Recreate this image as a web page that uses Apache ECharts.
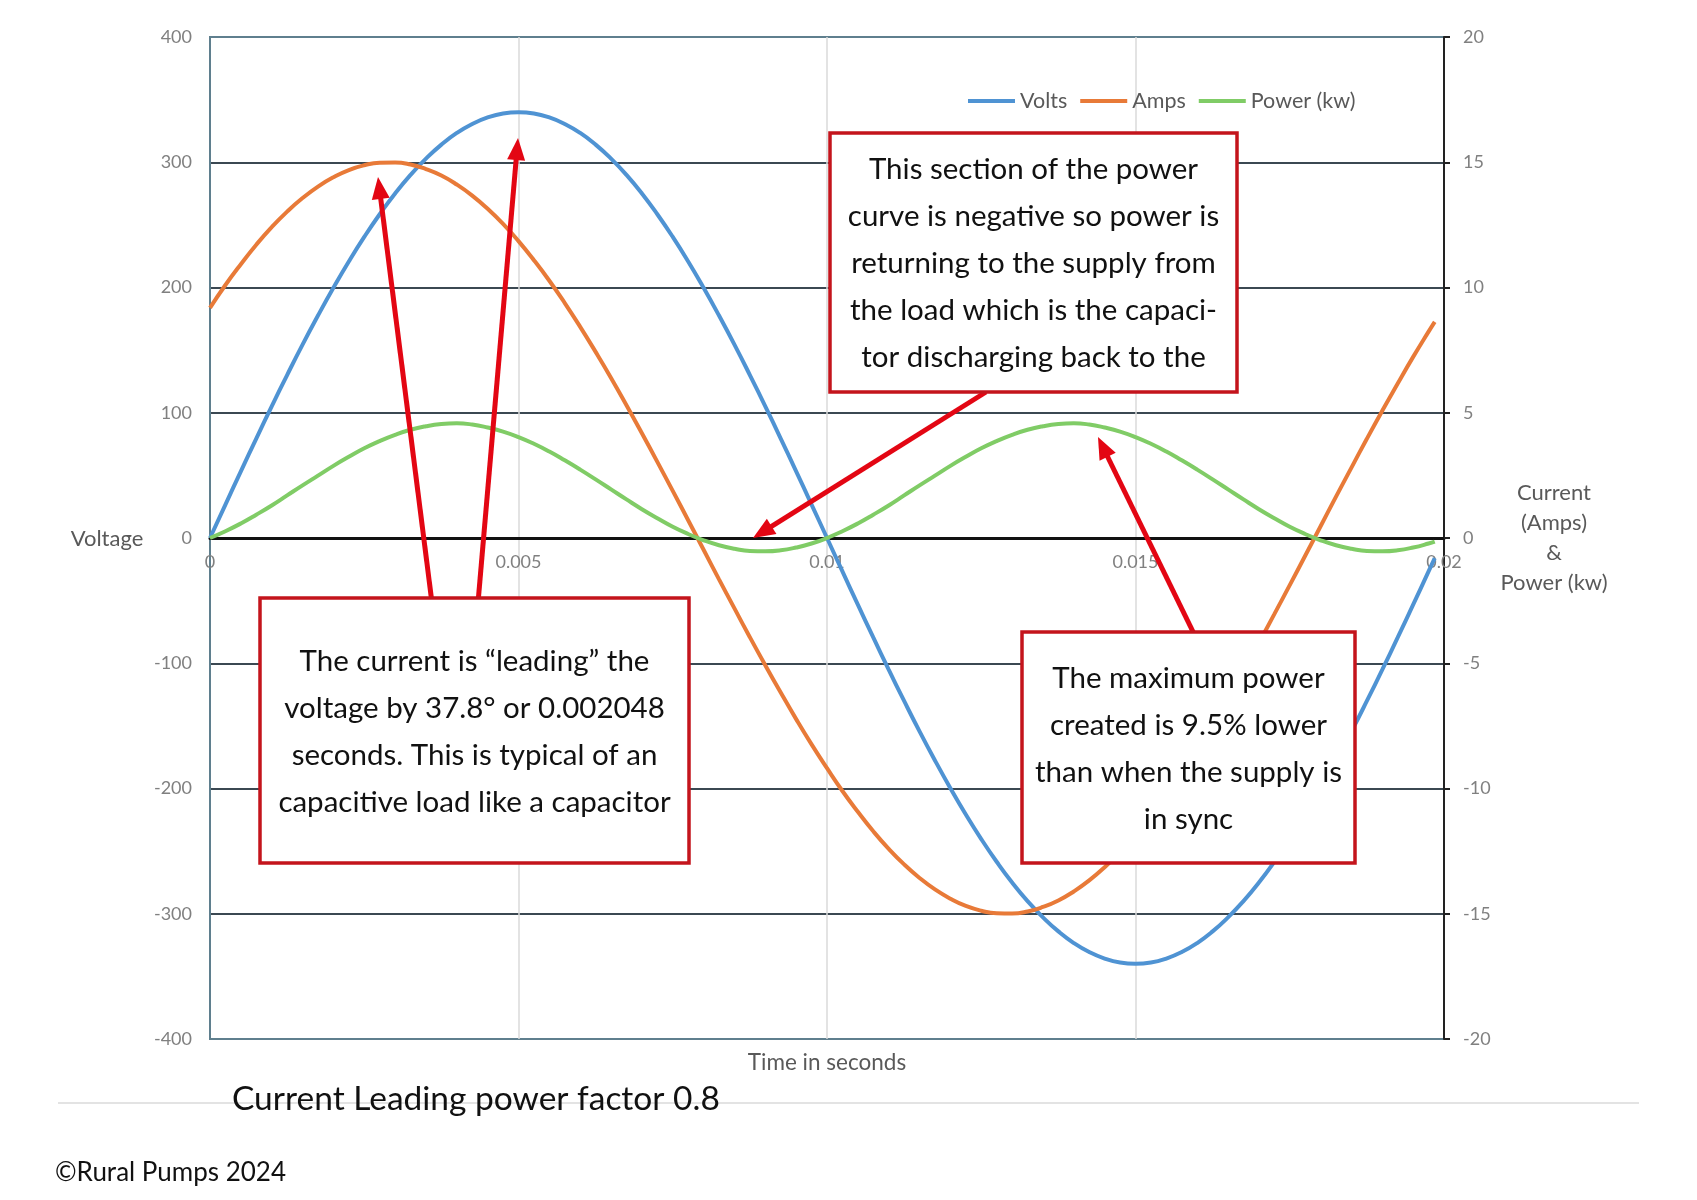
<!DOCTYPE html>
<html><head><meta charset="utf-8">
<script src="https://cdn.jsdelivr.net/npm/echarts@6/dist/echarts.min.js"></script>
<style>html,body{margin:0;padding:0;background:#fff}#c{width:1697px;height:1200px}</style>
</head><body><div id="c"></div>
<script>
// ---- data ----
const timeSec = [0,0.00025,0.0005,0.00075,0.001,0.00125,0.0015,0.00175,0.002,0.00225,
  0.0025,0.00275,0.003,0.00325,0.0035,0.00375,0.004,0.00425,0.0045,0.00475,
  0.005,0.00525,0.0055,0.00575,0.006,0.00625,0.0065,0.00675,0.007,0.00725,
  0.0075,0.00775,0.008,0.00825,0.0085,0.00875,0.009,0.00925,0.0095,0.00975,
  0.01,0.01025,0.0105,0.01075,0.011,0.01125,0.0115,0.01175,0.012,0.01225,
  0.0125,0.01275,0.013,0.01325,0.0135,0.01375,0.014,0.01425,0.0145,0.01475,
  0.015,0.01525,0.0155,0.01575,0.016,0.01625,0.0165,0.01675,0.017,0.01725,
  0.0175,0.01775,0.018,0.01825,0.0185,0.01875,0.019,0.01925,0.0195,0.01975,0.01985];
const volts = [0,26.7,53.2,79.4,105.1,130.1,154.4,177.6,199.8,220.8,
  240.4,258.5,275.1,289.9,302.9,314.1,323.4,330.6,335.8,339.0,
  340,339.0,335.8,330.6,323.4,314.1,302.9,289.9,275.1,258.5,
  240.4,220.8,199.8,177.6,154.4,130.1,105.1,79.4,53.2,26.7,
  0,-26.7,-53.2,-79.4,-105.1,-130.1,-154.4,-177.6,-199.8,-220.8,
  -240.4,-258.5,-275.1,-289.9,-302.9,-314.1,-323.4,-330.6,-335.8,-339.0,
  -340,-339.0,-335.8,-330.6,-323.4,-314.1,-302.9,-289.9,-275.1,-258.5,
  -240.4,-220.8,-199.8,-177.6,-154.4,-130.1,-105.1,-79.4,-53.2,-26.7,-16];
const amps = [9.19,10.10,10.93,11.71,12.41,13.03,13.57,14.03,14.40,14.69,
  14.88,14.98,14.99,14.91,14.73,14.47,14.11,13.67,13.14,12.54,
  11.85,11.09,10.27,9.38,8.43,7.43,6.39,5.30,4.18,3.04,
  1.88,0.71,-0.47,-1.65,-2.81,-3.96,-5.08,-6.17,-7.23,-8.24,
  -9.19,-10.10,-10.93,-11.71,-12.41,-13.03,-13.57,-14.03,-14.40,-14.69,
  -14.88,-14.98,-14.99,-14.91,-14.73,-14.47,-14.11,-13.67,-13.14,-12.54,
  -11.85,-11.09,-10.27,-9.38,-8.43,-7.43,-6.39,-5.30,-4.18,-3.04,
  -1.88,-0.71,0.47,1.65,2.81,3.96,5.08,6.17,7.23,8.24,8.63];
const powerKw = [0,0.27,0.58,0.93,1.30,1.70,2.10,2.49,2.88,3.24,
  3.58,3.87,4.12,4.32,4.46,4.55,4.58,4.53,4.41,4.25,
  4.03,3.76,3.45,3.10,2.73,2.34,1.94,1.54,1.15,0.79,
  0.45,0.16,-0.09,-0.29,-0.43,-0.52,-0.53,-0.49,-0.38,-0.22,
  0,0.27,0.58,0.93,1.30,1.70,2.10,2.49,2.88,3.24,
  3.58,3.87,4.12,4.32,4.46,4.55,4.58,4.53,4.41,4.25,
  4.03,3.76,3.45,3.10,2.73,2.34,1.94,1.54,1.15,0.79,
  0.45,0.16,-0.09,-0.29,-0.43,-0.52,-0.53,-0.49,-0.38,-0.22,-0.14];
const seriesNames = ['Volts','Amps','Power (kw)'];
const voltAxis = {min:-400, max:400, interval:100};
const ampAxis = {min:-20, max:20, interval:5};
const timeAxis = {min:0, max:0.02, interval:0.005};
const titleText = 'Current Leading power factor 0.8';
const creditText = '\u00A9Rural Pumps 2024';
const notes = [
  'This section of the power\ncurve is negative so power is\nreturning to the supply from\nthe load which is the capaci-\ntor discharging back to the',
  'The current is \u201Cleading\u201D the\nvoltage by 37.8\u00B0 or 0.002048\nseconds. This is typical of an\ncapacitive load like a capacitor',
  'The maximum power\ncreated is 9.5% lower\nthan when the supply is\nin sync'
];

// ---- styling / layout ----
const FONT = 'Lato';
const C_VOLT = '#4F93D3', C_AMP = '#E87A38', C_POW = '#80CC66';
const GRID = {left:210, right:253, top:37, bottom:161};
const ZERO_OFFSET = -501; // x axis drawn at the 0 V line
const pair = (vals) => timeSec.map((t,i)=>[t, vals[i]]);

function arrow(x1,y1,x2,y2){
  const dx=x2-x1, dy=y2-y1, L=Math.hypot(dx,dy), ux=dx/L, uy=dy/L;
  const hl=22, hw=9;
  const bx=x2-ux*hl, by=y2-uy*hl;
  const px=-uy, py=ux;
  return [
    {type:'line', z:105, shape:{x1:x1,y1:y1,x2:bx+ux*2,y2:by+uy*2}, style:{stroke:'#E30613', lineWidth:5}},
    {type:'polygon', z:105, shape:{points:[[x2,y2],[bx+px*hw,by+py*hw],[bx-px*hw,by-py*hw]]}, style:{fill:'#E30613'}}
  ];
}
function box(x0,y0,x1,y1,text){
  return [
    {type:'rect', z:110, shape:{x:x0,y:y0,width:x1-x0,height:y1-y0}, style:{fill:'#fff', stroke:'#C4141C', lineWidth:3.5}},
    {type:'text', z:111, x:(x0+x1)/2, y:(y0+y1)/2+1, style:{text:text, fill:'#111', fontSize:29.5, fontFamily:FONT, align:'center', verticalAlign:'middle', lineHeight:47}}
  ];
}

const graphics = [].concat(
  arrow(432,603,378,177),
  arrow(478,603,518,138),
  arrow(986,392,753,538),
  arrow(1198,642,1098,437),
  box(830,133,1237,392,notes[0]),
  box(260,598,689,863,notes[1]),
  box(1022,632,1355,863,notes[2]),
  [
    {type:'text', x:107, y:539, style:{text:'Voltage', fill:'#595959', fontSize:22, fontFamily:FONT, align:'center', verticalAlign:'middle'}},
    {type:'text', x:1554, y:538, style:{text:'Current\n(Amps)\n&\nPower (kw)', fill:'#595959', fontSize:22, fontFamily:FONT, align:'center', verticalAlign:'middle', lineHeight:30}},
    {type:'text', x:827, y:1063, style:{text:'Time in seconds', fill:'#595959', fontSize:22.5, fontFamily:FONT, align:'center', verticalAlign:'middle'}},
    {type:'line', z:1, shape:{x1:58,y1:1103,x2:1639,y2:1103}, style:{stroke:'#e3e3e3', lineWidth:2}},
    {type:'text', z:2, x:232, y:1099, style:{text:titleText, fill:'#111', fontSize:33.5, fontFamily:FONT, align:'left', verticalAlign:'middle'}},
    {type:'text', x:55, y:1173, style:{text:creditText, fill:'#111', fontSize:26, fontFamily:FONT, align:'left', verticalAlign:'middle'}}
  ]
);

const edge = '#5f7f8e', dark = '#3b4852';
const splitColors = [edge, dark, dark, dark, dark, dark, dark, dark, edge];

const chart = echarts.init(document.getElementById('c'), null, {renderer:'canvas'});
chart.setOption({
  animation:false,
  backgroundColor:'#fff',
  textStyle:{fontFamily:FONT},
  grid:Object.assign({show:true, borderColor:edge, borderWidth:2, backgroundColor:'transparent', outerBoundsMode:'none', containLabel:false}, GRID),
  legend:{data:seriesNames, left:963, top:85, icon:'rect', itemWidth:47, itemHeight:4, itemGap:13,
    textStyle:{color:'#595959', fontSize:21.5, fontFamily:FONT, lineHeight:22}},
  xAxis:{type:'value', min:timeAxis.min, max:timeAxis.max, interval:timeAxis.interval, position:'bottom', offset:ZERO_OFFSET,
    axisLine:{show:true, onZero:false, lineStyle:{color:'#111', width:3}},
    axisTick:{show:false},
    axisLabel:{color:'#808080', fontSize:18, fontFamily:FONT, margin:15, showMinLabel:true, showMaxLabel:true, alignMinLabel:'center', alignMaxLabel:'center'},
    splitLine:{show:true, lineStyle:{color:'#dadada', width:1.5}}
  },
  yAxis:[
    {type:'value', min:voltAxis.min, max:voltAxis.max, interval:voltAxis.interval, position:'left',
      axisLine:{show:true, onZero:false, lineStyle:{color:edge, width:2}}, axisTick:{show:false},
      axisLabel:{color:'#808080', fontSize:18, fontFamily:FONT, margin:18, showMinLabel:true, showMaxLabel:true},
      splitLine:{show:true, lineStyle:{color:splitColors, width:2}}},
    {type:'value', min:ampAxis.min, max:ampAxis.max, interval:ampAxis.interval, position:'right',
      axisLine:{show:true, onZero:false, lineStyle:{color:'#222', width:2}},
      axisTick:{show:true, inside:false, length:6, lineStyle:{color:'#222', width:2}},
      axisLabel:{color:'#808080', fontSize:18, fontFamily:FONT, margin:19, showMinLabel:true, showMaxLabel:true},
      splitLine:{show:false}}
  ],
  series:[
    {name:seriesNames[0], type:'line', yAxisIndex:0, data:pair(volts), smooth:true, showSymbol:false, symbol:'none',
      lineStyle:{color:C_VOLT, width:4}, itemStyle:{color:C_VOLT}, z:3},
    {name:seriesNames[1], type:'line', yAxisIndex:1, data:pair(amps), smooth:true, showSymbol:false, symbol:'none',
      lineStyle:{color:C_AMP, width:4}, itemStyle:{color:C_AMP}, z:3},
    {name:seriesNames[2], type:'line', yAxisIndex:1, data:pair(powerKw), smooth:true, showSymbol:false, symbol:'none',
      lineStyle:{color:C_POW, width:4}, itemStyle:{color:C_POW}, z:3}
  ],
  graphic:{elements:graphics}
});
</script></body></html>
